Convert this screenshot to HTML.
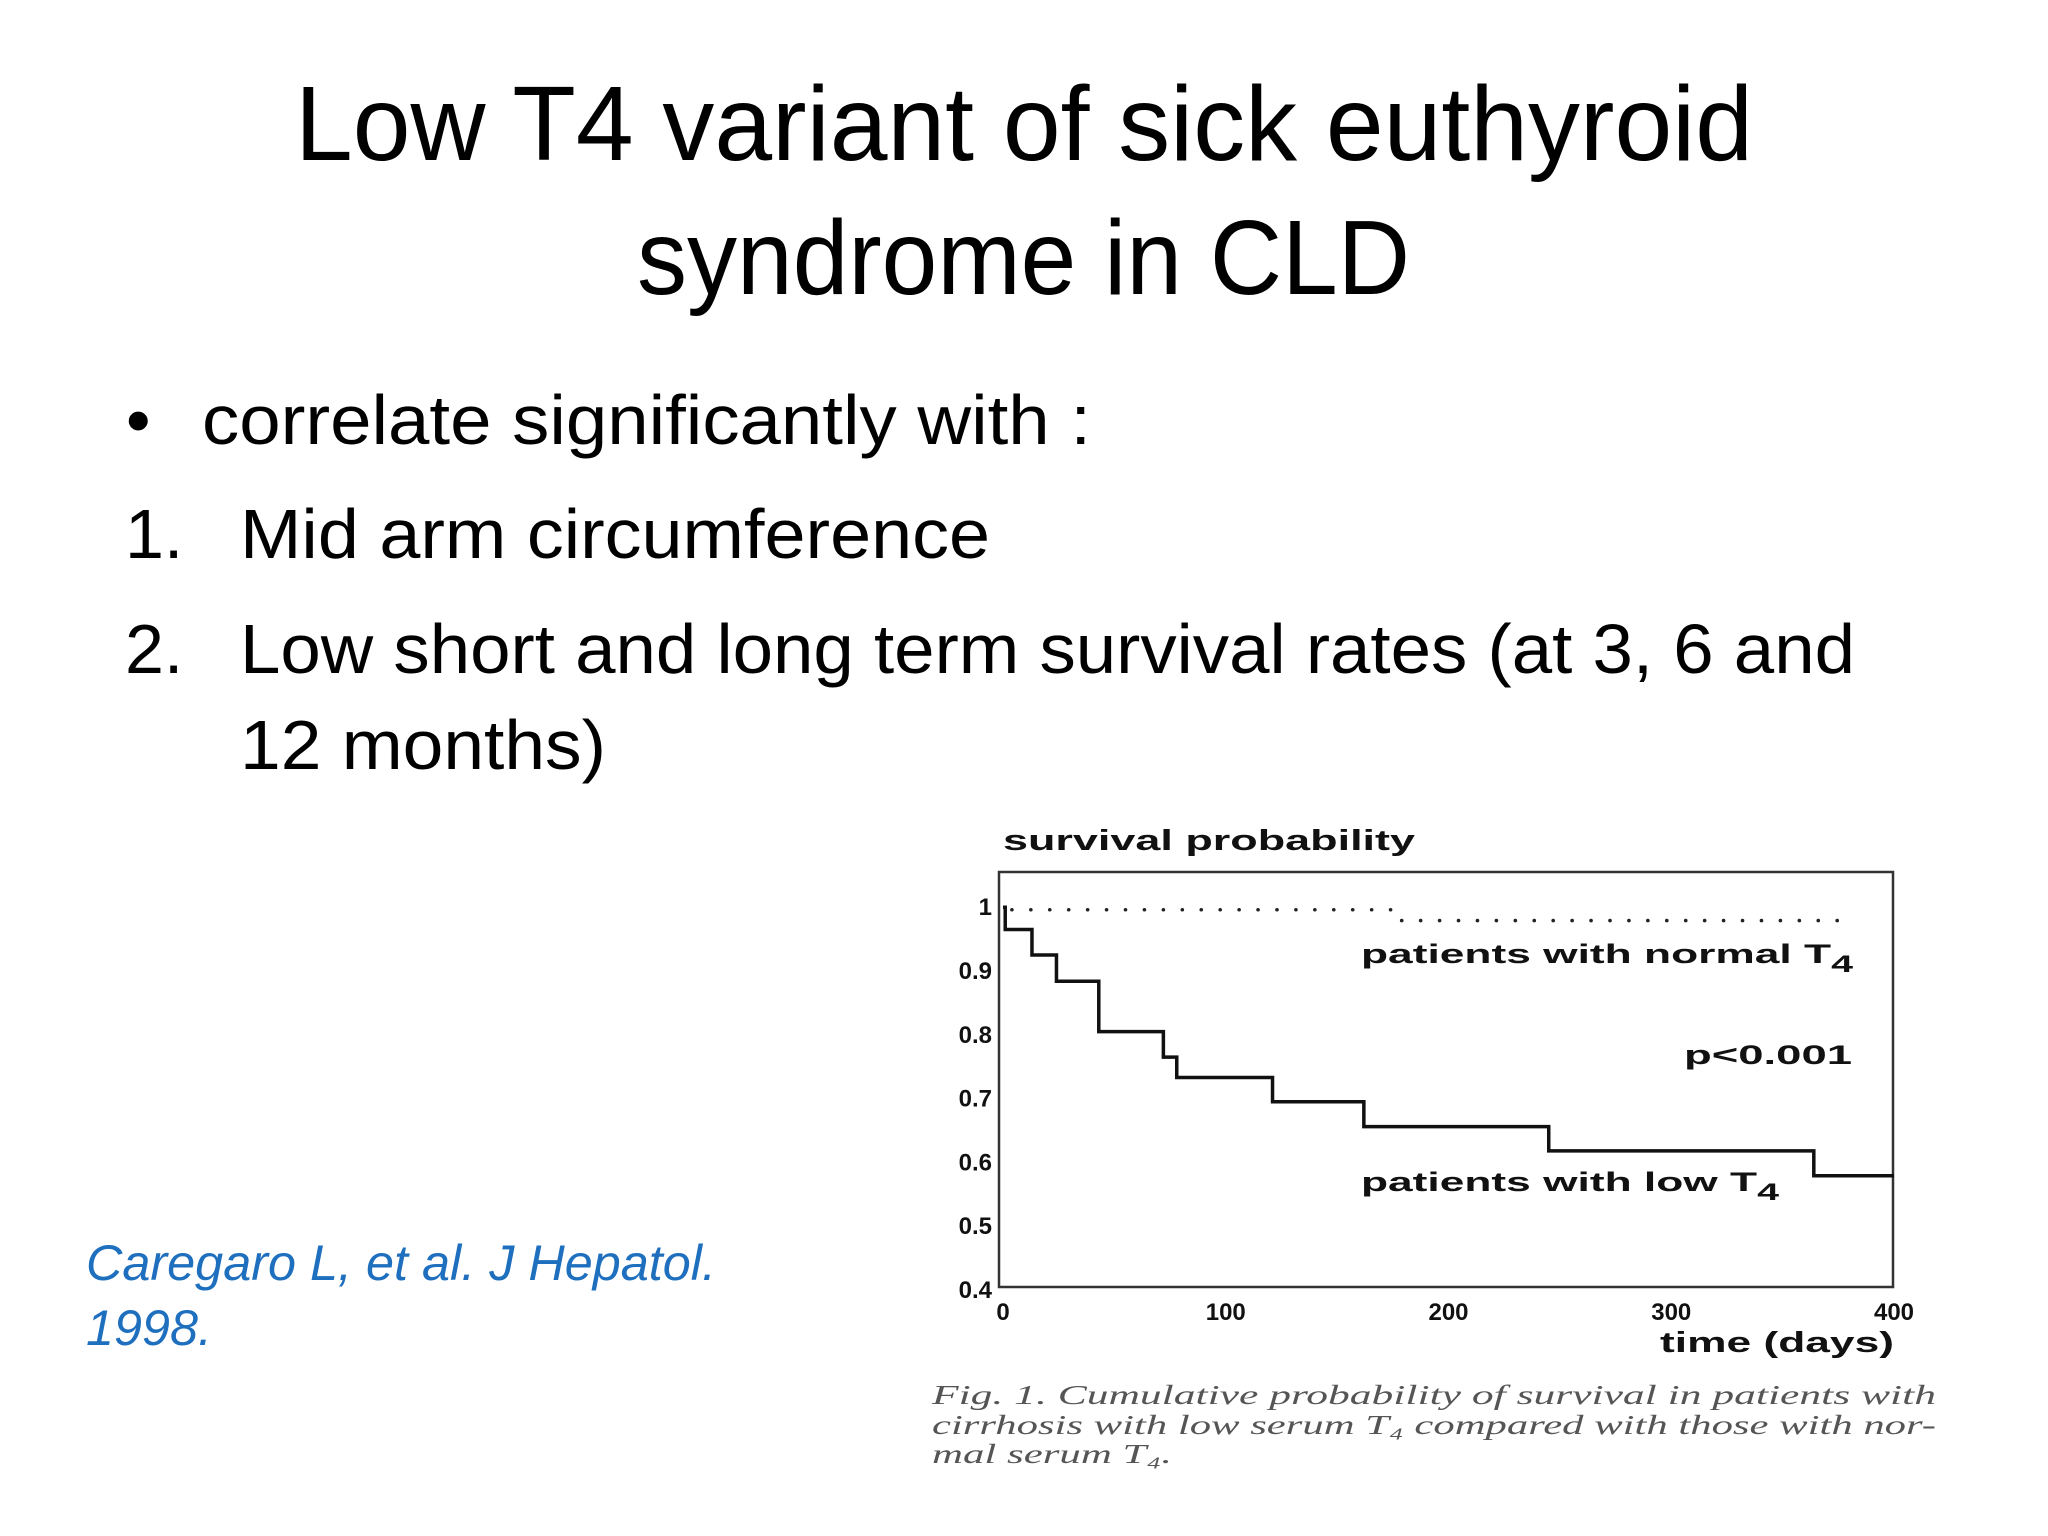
<!DOCTYPE html>
<html><head><meta charset="utf-8"><style>
html,body{margin:0;padding:0;background:#fff;}
svg{display:block;}
.t{font-family:"Liberation Sans",sans-serif;fill:#000;}
.c{font-family:"Liberation Sans",sans-serif;font-weight:bold;fill:#111;}
</style></head><body>
<svg id="slide" width="2048" height="1536" viewBox="0 0 2048 1536">
<rect width="2048" height="1536" fill="#fff"/>
<text class="t" x="295" y="160" font-size="106" textLength="1458" lengthAdjust="spacingAndGlyphs">Low T4 variant of sick euthyroid</text>
<text class="t" x="637" y="294" font-size="106" textLength="773" lengthAdjust="spacingAndGlyphs">syndrome in CLD</text>
<text class="t" x="126" y="444" font-size="70">•</text>
<text class="t" x="202" y="444" font-size="70" textLength="889" lengthAdjust="spacingAndGlyphs">correlate significantly with :</text>
<text class="t" x="125" y="558" font-size="70">1.</text>
<text class="t" x="240" y="558" font-size="70" textLength="750" lengthAdjust="spacingAndGlyphs">Mid arm circumference</text>
<text class="t" x="125" y="673" font-size="70">2.</text>
<text class="t" x="240" y="673" font-size="70" textLength="1615" lengthAdjust="spacingAndGlyphs">Low short and long term survival rates (at 3, 6 and</text>
<text class="t" x="240" y="769" font-size="70" textLength="366" lengthAdjust="spacingAndGlyphs">12 months)</text>
<text class="t" x="86" y="1280" font-size="50" font-style="italic" style="fill:#1F6FBF" textLength="630" lengthAdjust="spacingAndGlyphs">Caregaro L, et al. J Hepatol.</text>
<text class="t" x="86" y="1345" font-size="50" font-style="italic" style="fill:#1F6FBF" textLength="126" lengthAdjust="spacingAndGlyphs">1998.</text>

<g id="chart">
<text class="c" x="1003" y="850" font-size="29" textLength="412" lengthAdjust="spacingAndGlyphs">survival probability</text>
<rect x="999" y="872" width="894" height="415" fill="none" stroke="#333" stroke-width="2.5"/>
<g id="yticks"></g><g id="xticks"></g>
<path id="lowline" fill="none" stroke="#111" stroke-width="3.5"/>
<g id="normdots"></g>
<text class="c" x="1894" y="1352" font-size="29" text-anchor="end" textLength="234" lengthAdjust="spacingAndGlyphs">time (days)</text>
<text class="c" x="1361" y="963" font-size="27" textLength="492" lengthAdjust="spacingAndGlyphs">patients with normal T<tspan dy="9" font-size="24">4</tspan></text>
<text class="c" x="1852" y="1064" font-size="27" text-anchor="end" textLength="168" lengthAdjust="spacingAndGlyphs">p&lt;0.001</text>
<text class="c" x="1361" y="1191" font-size="27" textLength="418" lengthAdjust="spacingAndGlyphs">patients with low T<tspan dy="9" font-size="24">4</tspan></text>
<g font-family="'Liberation Serif',serif" font-style="italic" fill="#555" font-size="27">
<text x="932" y="1404" textLength="1004" lengthAdjust="spacingAndGlyphs">Fig. 1. Cumulative probability of survival in patients with</text>
<text x="932" y="1434" textLength="1004" lengthAdjust="spacingAndGlyphs">cirrhosis with low serum T₄ compared with those with nor-</text>
<text x="932" y="1463" textLength="240" lengthAdjust="spacingAndGlyphs">mal serum T₄.</text>
</g>
</g>
</svg>
<script>
const yTicks=[1,0.9,0.8,0.7,0.6,0.5,0.4];
const yTickLabels=["1","0.9","0.8","0.7","0.6","0.5","0.4"];
const xTicks=[0,100,200,300,400];
const xTickLabels=["0","100","200","300","400"];
const lowTimes=[0,1,13,24,43,72,78,121,162,245,364,400];
const lowSurv=[1,0.965,0.925,0.884,0.805,0.765,0.733,0.695,0.656,0.618,0.579,0.579];
const normTimes=[0,175,383];
const normSurv=[0.996,0.979,0.979];
const NS="http://www.w3.org/2000/svg";
function X(t){return 1003+t*2.2275;}
function Y(v){return 1290-(v-0.4)*638;}
const yg=document.getElementById('yticks');
yTicks.forEach((v,i)=>{const e=document.createElementNS(NS,'text');
e.setAttribute('class','c');e.setAttribute('x',992);e.setAttribute('y',Y(v)+8);
e.setAttribute('font-size','24');e.setAttribute('text-anchor','end');


e.textContent=yTickLabels[i];yg.appendChild(e);});
const xg=document.getElementById('xticks');
xTicks.forEach((t,i)=>{const e=document.createElementNS(NS,'text');
e.setAttribute('class','c');e.setAttribute('x',X(t));e.setAttribute('y',1320);
e.setAttribute('font-size','24');e.setAttribute('text-anchor','middle');


e.textContent=xTickLabels[i];xg.appendChild(e);});
let d='M'+X(lowTimes[0])+' '+Y(lowSurv[0]);
for(let i=1;i<lowTimes.length;i++){d+=' H'+X(lowTimes[i])+' V'+Y(lowSurv[i]);}
document.getElementById('lowline').setAttribute('d',d);
const ng=document.getElementById('normdots');
for(let i=0;i<normTimes.length-1;i++){
  for(let t=normTimes[i]+4;t<normTimes[i+1];t+=8.5){
    const c=document.createElementNS(NS,'circle');
    c.setAttribute('cx',X(t));c.setAttribute('cy',Y(normSurv[i]));c.setAttribute('r',1.8);c.setAttribute('fill','#222');
    
    
    ng.appendChild(c);
  }
}
</script>
</body></html>
